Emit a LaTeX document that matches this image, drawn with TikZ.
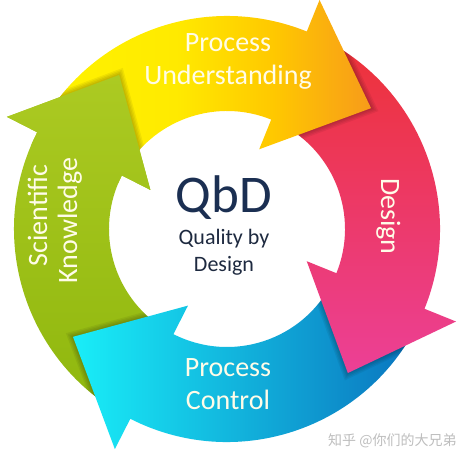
\documentclass[tikz,border=0pt]{standalone}
\usepackage{fontspec}
\setmainfont{Carlito}
\newfontfamily\cjkfont{Noto Sans CJK SC}
\definecolor{qY1}{RGB}{255,243,0}
\definecolor{qY2}{RGB}{255,234,0}
\definecolor{qY3}{RGB}{255,200,0}
\definecolor{qY4}{RGB}{247,155,26}
\definecolor{qR1}{RGB}{237,50,55}
\definecolor{qR2}{RGB}{238,52,72}
\definecolor{qR3}{RGB}{236,64,150}
\definecolor{qB1}{RGB}{25,238,248}
\definecolor{qB2}{RGB}{12,160,220}
\definecolor{qB3}{RGB}{10,115,190}
\definecolor{qG1}{RGB}{172,202,34}
\definecolor{qG2}{RGB}{162,196,26}
\definecolor{qG3}{RGB}{143,183,14}
\definecolor{qLabel}{RGB}{255,252,232}
\definecolor{qNavy}{RGB}{27,47,82}
\definecolor{qDark}{RGB}{30,42,64}
\definecolor{qMark}{RGB}{190,190,190}
\pgfdeclarehorizontalshading{qyshade}{100bp}{color(0bp)=(qY1); color(25bp)=(qY1); color(45bp)=(qY2); color(60bp)=(qY3); color(75bp)=(qY4); color(100bp)=(qY4)}
% full arrow: tail angle #1, head base angle #2 (clockwise)
\newcommand\qArrowPath[2]{(#1:213pt) arc[start angle=#1, end angle=#2, radius=213pt] -- (#2:247pt) -- ({#2-28}:188pt) -- (#2:86pt) -- (#2:118pt) arc[start angle=#2, end angle=#1, radius=118pt] -- cycle}
\newcommand\qHeadPath[1]{(#1:247pt) -- ({#1-28}:188pt) -- (#1:86pt) -- cycle}
\newcommand\qShadow[1]{\foreach \d in {2pt,4pt,6pt,8pt}{\begin{scope}[shift={({#1-90}:\d)}]\fill[black,opacity=0.06] \qHeadPath{#1};\end{scope}}}
\tikzset{
  yarrow/.style={shading=qyshade},
  rarrow/.style={top color=qR1, middle color=qR2, bottom color=qR3},
  barrow/.style={left color=qB1, middle color=qB2, right color=qB3},
  garrow/.style={top color=qG1, middle color=qG2, bottom color=qG3},
  biglabel/.style={text=qLabel, font=\fontsize{28}{33}\selectfont, inner sep=0pt, anchor=base},
  centerlabel/.style={text=qDark, font=\fontsize{22}{26}\selectfont, inner sep=0pt, anchor=base},
}
\begin{document}
\begin{tikzpicture}[x=1pt,y=1pt]
\useasboundingbox (0,0) rectangle (463,463);
\fill[white] (0,0) rectangle (463,463);
\begin{scope}[shift={(227,234)}]
  % green (tail under blue head)
  \path[garrow] \qArrowPath{238}{153};
  % blue head shadow on green
  \begin{scope}\path[clip] \qArrowPath{238}{153};\qShadow{-117}\end{scope}
  \path[barrow] \qArrowPath{-27}{-117};
  % red head shadow on blue
  \begin{scope}\path[clip] \qArrowPath{-27}{-117};\qShadow{-22}\end{scope}
  \path[rarrow] \qArrowPath{63}{-22};
  % yellow head shadow on red
  \begin{scope}\path[clip] \qArrowPath{63}{-22};\qShadow{68}\end{scope}
  \path[yarrow] \qArrowPath{148}{68};
  % green head shadow on yellow
  \begin{scope}\path[clip] \qArrowPath{148}{68};\qShadow{153}\end{scope}
  % green head again, over the yellow tail
  \begin{scope}
    \clip (0,0) -- (157:300pt) arc[start angle=157, end angle=118, radius=300pt] -- cycle;
    \path[garrow] \qArrowPath{238}{153};
  \end{scope}
\end{scope}
% labels
\node[biglabel] (pu1) at (228,411) {Process};
\node[biglabel] (pu2) at (228,378) {Understanding};
\node[biglabel, rotate=-90] (ds) at (381,246.5) {Design};
\node[biglabel, rotate=90] (sk1) at (47,247.5) {Scientific};
\node[biglabel, rotate=90] (sk2) at (77,242.5) {Knowledge};
\node[biglabel] (pc1) at (228,86) {Process};
\node[biglabel] (pc2) at (228,53) {Control};
\node[text=qNavy, font=\fontsize{53}{60}\selectfont, inner sep=0pt, anchor=base] (qbd) at (224,250) {QbD};
\node[centerlabel] (qd1) at (224,218) {Quality by};
\node[centerlabel] (qd2) at (224,191.5) {Design};
\node[text=qMark, font=\cjkfont\fontsize{14}{16}\selectfont, inner sep=0pt, anchor=base west] (wm) at (328,17) {知乎 @你们的大兄弟};
\end{tikzpicture}
\end{document}
